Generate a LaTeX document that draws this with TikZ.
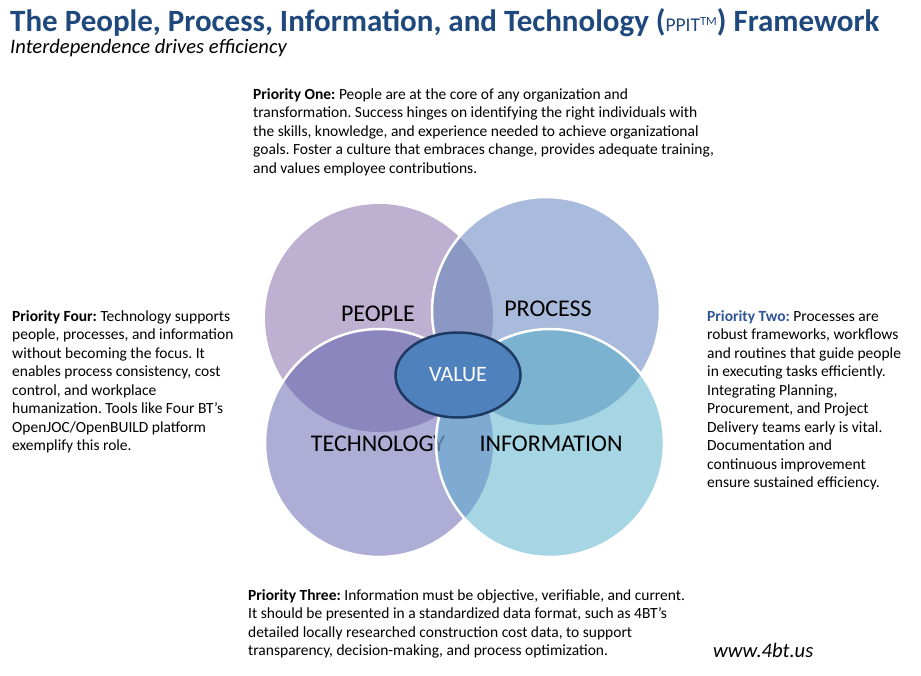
\documentclass[tikz,border=0pt]{standalone}
\usepackage{fontspec}
\setmainfont{Carlito}
\usetikzlibrary{shapes.geometric}
\frenchspacing
\definecolor{titleblue}{HTML}{1F497D}
\definecolor{prioblue}{HTML}{2F5597}
\definecolor{peoplec}{HTML}{BDB0D1}
\definecolor{processc}{HTML}{A8BBDC}
\definecolor{techc}{HTML}{ADADD6}
\definecolor{infoc}{HTML}{A6D5E3}
\definecolor{ppc}{HTML}{8A98C3}
\definecolor{ptc}{HTML}{8C86BE}
\definecolor{pic}{HTML}{7AB2D0}
\definecolor{tic}{HTML}{7FABD2}
\definecolor{valuec}{HTML}{4F81BD}
\definecolor{valueb}{HTML}{1F3A60}
\begin{document}
\begin{tikzpicture}[x=1pt,y=-1pt,
  body/.style={anchor=north west,inner sep=0pt,align=left,font=\frenchspacing\fontsize{15.5}{18.5}\selectfont},
  circlabel/.style={inner sep=0pt,font=\fontsize{24}{24}\selectfont},
  whiteedge/.style={draw=white,line width=2.5pt}]
\useasboundingbox[fill=white] (0,0) rectangle (921,675);
\def\cPeople{(379,318) circle[radius=114pt]}
\def\cProcess{(546,311) circle[radius=114pt]}
\def\cTech{(379,443) circle[radius=114pt]}
\def\cInfo{(550,443) circle[radius=114pt]}
% title
\node[anchor=base west,inner sep=0pt,text=titleblue,font=\fontsize{31}{34}\selectfont\bfseries] (title) at (10,31)
  {The People, Process, Information, and Technology ({\mdseries\fontsize{19.5}{19.5}\selectfont PPIT\raisebox{6pt}{\fontsize{12.5}{12.5}\selectfont TM}}) Framework};
\node[anchor=base west,inner sep=0pt,font=\fontsize{20.6}{22}\selectfont\itshape] (subtitle) at (10,53) {Interdependence drives efficiency};
% circles
\fill[peoplec] \cPeople;
\fill[processc] \cProcess;
\begin{scope}\clip \cPeople; \fill[ppc] \cProcess; \end{scope}
\path[whiteedge] \cProcess;
\fill[techc] \cTech;
\begin{scope}\clip \cPeople; \fill[ptc] \cTech; \end{scope}
\path[whiteedge] \cTech;
\fill[infoc] \cInfo;
\begin{scope}\clip \cInfo; \fill[pic] \cProcess; \end{scope}
\begin{scope}\clip \cInfo; \fill[tic] \cTech; \end{scope}
\node[circlabel] (tech) at (378,444) {TECHNOLOGY};
\begin{scope}\clip \cInfo; \fill[tic,fill opacity=0.7] \cTech; \end{scope}
\path[whiteedge] \cInfo;
\node[circlabel] (people) at (378,314) {PEOPLE};
\node[circlabel] (process) at (548,309) {PROCESS};
\node[circlabel] (info) at (551,444) {INFORMATION};
\node[ellipse,fill=valuec,draw=valueb,line width=2.5pt,minimum width=125pt,minimum height=85pt,inner sep=0pt,
  text=white,font=\fontsize{22}{22}\selectfont] (value) at (458,375) {VALUE};
% texts
\node[body] (p1) at (253,88) {\textbf{Priority One:} People are at the core of any organization and\\
transformation. Success hinges on identifying the right individuals with\\
the skills, knowledge, and experience needed to achieve organizational\\
goals. Foster a culture that embraces change, provides adequate training,\\
and values employee contributions.};
\node[body] (p4) at (12,310) {\textbf{Priority Four:} Technology supports\\
people, processes, and information\\
without becoming the focus. It\\
enables process consistency, cost\\
control, and workplace\\
humanization. Tools like Four BT’s\\
OpenJOC/OpenBUILD platform\\
exemplify this role.};
\node[body] (p2) at (707,310) {\textbf{\textcolor{prioblue}{Priority Two:}} Processes are\\
robust frameworks, workflows\\
and routines that guide people\\
in executing tasks efficiently.\\
Integrating Planning,\\
Procurement, and Project\\
Delivery teams early is vital.\\
Documentation and\\
continuous improvement\\
ensure sustained efficiency.};
\node[body] (p3) at (248,589) {\textbf{Priority Three:} Information must be objective, verifiable, and current.\\
It should be presented in a standardized data format, such as 4BT’s\\
detailed locally researched construction cost data, to support\\
transparency, decision-making, and process optimization.};
\node[anchor=base west,inner sep=0pt,font=\fontsize{20.6}{22}\selectfont\itshape] (web) at (713,657) {www.4bt.us};
\end{tikzpicture}
\end{document}
